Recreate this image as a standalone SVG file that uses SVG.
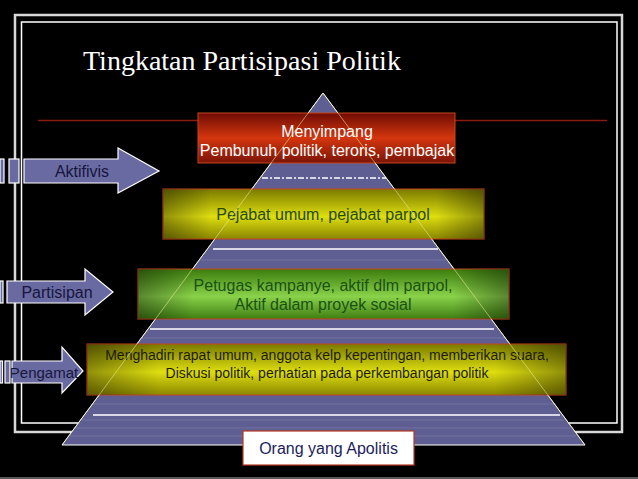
<svg xmlns="http://www.w3.org/2000/svg" width="638" height="479" viewBox="0 0 638 479">
<defs>
<style>
.lbl{font-family:"Liberation Sans",Arial,sans-serif;font-size:16px;text-anchor:middle}
.arr{fill:#6a6aa2;stroke:#ffffff;stroke-width:1.2}
.arrt{font-family:"Liberation Sans",Arial,sans-serif;font-size:16px;fill:#16163c;text-anchor:middle}
.box{stroke:#c8461e;stroke-width:1}
.wl{stroke:#ffffff;stroke-width:1.3}
.band{stroke:#ffffff;stroke-opacity:0.12;stroke-width:1}
</style>
<linearGradient id="gRed" x1="0" y1="0" x2="0" y2="1">
<stop offset="0" stop-color="#6e0c04"/>
<stop offset="0.5" stop-color="#d4360e"/>
<stop offset="1" stop-color="#7a1406"/>
</linearGradient>
<linearGradient id="gYel" x1="0" y1="0" x2="0" y2="1">
<stop offset="0" stop-color="#7a7a00"/>
<stop offset="0.55" stop-color="#dede10"/>
<stop offset="1" stop-color="#8a8600"/>
</linearGradient>
<linearGradient id="gGrn" x1="0" y1="0" x2="0" y2="1">
<stop offset="0" stop-color="#3c7c0e"/>
<stop offset="0.55" stop-color="#8ad24a"/>
<stop offset="1" stop-color="#3e7e12"/>
</linearGradient>
<linearGradient id="gSide" x1="0" y1="0" x2="1" y2="0">
<stop offset="0" stop-color="#000" stop-opacity="0.35"/>
<stop offset="0.15" stop-color="#000" stop-opacity="0"/>
<stop offset="0.85" stop-color="#000" stop-opacity="0"/>
<stop offset="1" stop-color="#000" stop-opacity="0.35"/>
</linearGradient>
</defs>
<rect x="0" y="0" width="638" height="479" fill="#000"/>
<rect x="0" y="477" width="638" height="2" fill="#5a5a5a"/>

<g id="frame" fill="none">
<rect x="15" y="15" width="607" height="417" stroke="#d8d8d8" stroke-width="2.5"/>
<rect x="21.5" y="22" width="595.5" height="401" stroke="#ffffff" stroke-width="1.5"/>
</g>

<g id="title">
<text x="83" y="70" font-family="'Liberation Serif','Times New Roman',serif" font-size="28" fill="#ffffff">Tingkatan Partisipasi Politik</text>
</g>

<line x1="38" y1="120.5" x2="607" y2="120.5" stroke="#8a1a12" stroke-width="1.3"/>

<g id="pyramid">
<polygon points="323,93 62,445 585,445" fill="#5e5e92" stroke="#ffffff" stroke-width="1"/>
<g class="band">
<line x1="200" y1="260" x2="446" y2="260"/>
<line x1="190" y1="272" x2="456" y2="272"/>
<line x1="140" y1="338" x2="506" y2="338"/>
<line x1="130" y1="348" x2="516" y2="348"/>
<line x1="90" y1="404" x2="556" y2="404"/>
<line x1="82" y1="420" x2="564" y2="420"/>
<line x1="76" y1="428" x2="570" y2="428"/>
<line x1="70" y1="436" x2="576" y2="436"/>
</g>
<line class="wl" x1="262" y1="178" x2="386" y2="178" stroke-dasharray="6,2,2,2"/>
<line class="wl" x1="213" y1="249" x2="438" y2="249"/>
<line class="wl" x1="150" y1="329" x2="494" y2="329"/>
<line class="wl" x1="93" y1="415" x2="560" y2="415"/>
</g>

<g id="node-menyimpang">
<rect class="box" x="198" y="113" width="257" height="50" fill="url(#gRed)"/>
<text class="lbl" x="327" y="137" fill="#ffffff">Menyimpang</text>
<text class="lbl" x="327" y="156" fill="#ffffff">Pembunuh politik, teroris, pembajak</text>
</g>

<g id="node-pejabat">
<rect class="box" x="163" y="189" width="321" height="50" fill="url(#gYel)"/>
<rect x="163" y="189" width="321" height="50" fill="url(#gSide)"/>
<text class="lbl" x="323" y="220" fill="#264a12">Pejabat umum, pejabat parpol</text>
</g>

<g id="node-petugas">
<rect class="box" x="138" y="269" width="371" height="50" fill="url(#gGrn)"/>
<rect x="138" y="269" width="371" height="50" fill="url(#gSide)"/>
<text class="lbl" x="323" y="291" fill="#1a5214">Petugas kampanye, aktif dlm parpol,</text>
<text class="lbl" x="323" y="310" fill="#1a5214">Aktif dalam proyek sosial</text>
</g>

<g id="node-menghadiri">
<rect class="box" x="87" y="344" width="479" height="51" fill="url(#gYel)"/>
<rect x="87" y="344" width="479" height="51" fill="url(#gSide)"/>
<text class="lbl" x="327" y="360" fill="#1c1c04" style="font-size:14px">Menghadiri rapat umum, anggota kelp kepentingan, memberikan suara,</text>
<text class="lbl" x="327" y="378" fill="#1c1c04" style="font-size:14px">Diskusi politik, perhatian pada perkembangan politik</text>
</g>

<g id="pyramid-edge" fill="none" stroke="#f0f0a0" stroke-opacity="0.55" stroke-width="1">
<line x1="323" y1="93" x2="62" y2="445"/>
<line x1="323" y1="93" x2="585" y2="445"/>
</g>

<g id="node-apolitis">
<rect x="243" y="431" width="171" height="34" fill="#ffffff" stroke="#b83a22" stroke-width="1.2"/>
<text class="lbl" x="328.5" y="454" fill="#1c1c5a">Orang yang Apolitis</text>
</g>

<g id="node-aktifivis">
<rect class="arr" x="0" y="159" width="4" height="24"/>
<rect class="arr" x="9" y="159" width="10" height="24"/>
<polygon class="arr" points="24,159 118,159 118,148 159,171 118,193 118,183 24,183"/>
<text class="arrt" x="82" y="177">Aktifivis</text>
</g>

<g id="node-partisipan">
<rect class="arr" x="0" y="281" width="3" height="22"/>
<polygon class="arr" points="7,281 85,281 85,269 113,292 85,315 85,303 7,303"/>
<text class="arrt" x="57" y="298">Partisipan</text>
</g>

<g id="node-pengamat">
<rect class="arr" x="0" y="361" width="2.5" height="22"/>
<rect class="arr" x="5" y="361" width="5" height="22"/>
<polygon class="arr" points="12,361 62,361 62,347 83,371 62,393 62,383 12,383"/>
<text class="arrt" x="44" y="378" style="font-size:15px">Pengamat</text>
</g>

<g id="connectors"/>
</svg>
